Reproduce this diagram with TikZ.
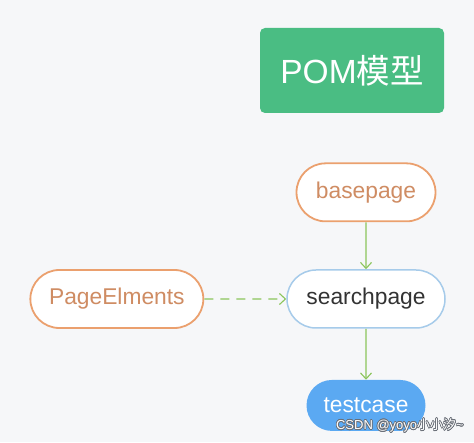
\documentclass[tikz,border=0pt]{standalone}
\usepackage{fontspec}
\setmainfont{Liberation Sans}
\newfontfamily\cjk{Noto Sans CJK SC}
\usepackage{xcolor}
\definecolor{cBack}{HTML}{F6F7F9}
\definecolor{cGreen}{HTML}{4ABD83}
\definecolor{cOrange}{HTML}{EBA06E}
\definecolor{cOrangeText}{HTML}{CF8C63}
\definecolor{cBlueLine}{HTML}{A6CBEA}
\definecolor{cBlue}{HTML}{5BA9F2}
\definecolor{cArrow}{HTML}{8BC55B}
\definecolor{cText}{HTML}{333333}
\definecolor{cShadow}{HTML}{6A6F78}
\usepackage{contour}
\contourlength{0.6pt}
\usepackage{tikz}
\usetikzlibrary{positioning,arrows.meta,shapes.misc}
\tikzset{
  node-title/.style={fill=cGreen,rounded corners=5pt,minimum width=184pt,
    minimum height=85pt,inner sep=0pt,text=white,font=\fontsize{33.5}{38}\selectfont},
  node-page/.style={rounded rectangle,minimum width=158pt,minimum height=58pt,
    inner sep=0pt,font=\fontsize{22.8}{26}\selectfont},
  node-base/.style={draw=cOrange,line width=1.8pt,fill=white,text=cOrangeText},
  node-main/.style={draw=cBlueLine,line width=1.5pt,fill=white,text=cText},
  node-case/.style={fill=cBlue,text=white},
  arrow/.style={-{Straight Barb[length=6pt,width=11pt]},line width=1.1pt,draw=cArrow},
  arrow-dash/.style={arrow,dash pattern=on 9pt off 7pt},
  mark-text/.style={inner sep=0pt,text=white,font=\fontsize{13}{15}\selectfont},
}

\begin{document}
\begin{tikzpicture}[x=1pt,y=1pt]
  \useasboundingbox[fill=cBack] (0,0) rectangle (474,442);
  \node[node-title] (pom) at (352,371.5) {POM{\cjk 模型}};
  \node[node-page,node-main] (sp) at (366,143) {searchpage};
  \node[node-page,node-base,minimum width=139pt,above=47pt of sp] (bp) {basepage};
  \node[node-page,node-base,minimum width=173pt,left=82pt of sp] (pe) {PageElments};
  \node[node-page,node-case,minimum width=119pt,minimum height=51pt,below=51pt of sp] (tc) {testcase};
  \draw[arrow]      (bp) -- (sp);
  \draw[arrow-dash] (pe) -- (sp);
  \draw[arrow]      (sp) -- (tc);
  \node[mark-text,anchor=south east] (wm) at (464,9)
    {\contour{cShadow}{CSDN @yoyo{\cjk 小小汐}\textasciitilde}};
\end{tikzpicture}
\end{document}
